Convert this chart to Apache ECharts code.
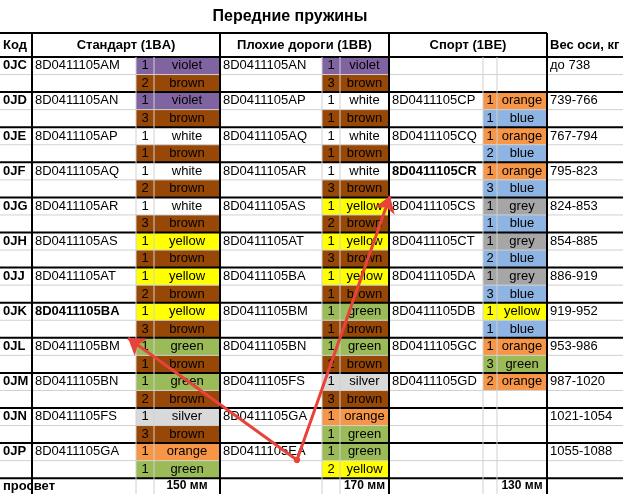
<!DOCTYPE html>
<html><head><meta charset="utf-8">
<script src="https://cdn.jsdelivr.net/npm/echarts@6/dist/echarts.min.js"></script>
<style>html,body{margin:0;padding:0;background:#fff}#c{width:623px;height:494px}</style>
</head><body><div id="c"></div>
<script>
const title = "Передние пружины";
const headers = ["Код","Стандарт (1BA)","Плохие дороги (1BB)","Спорт (1BE)","Вес оси, кг"];
const codes = ["0JC","0JD","0JE","0JF","0JG","0JH","0JJ","0JK","0JL","0JM","0JN","0JP"];
const stdPart = ["8D0411105AM","8D0411105AN","8D0411105AP","8D0411105AQ","8D0411105AR","8D0411105AS","8D0411105AT","8D0411105BA","8D0411105BM","8D0411105BN","8D0411105FS","8D0411105GA"];
const stdSprings = [[["1","violet"],["2","brown"]],[["1","violet"],["3","brown"]],[["1","white"],["1","brown"]],[["1","white"],["2","brown"]],[["1","white"],["3","brown"]],[["1","yellow"],["1","brown"]],[["1","yellow"],["2","brown"]],[["1","yellow"],["3","brown"]],[["1","green"],["1","brown"]],[["1","green"],["2","brown"]],[["1","silver"],["3","brown"]],[["1","orange"],["1","green"]]];
const badPart = ["8D0411105AN","8D0411105AP","8D0411105AQ","8D0411105AR","8D0411105AS","8D0411105AT","8D0411105BA","8D0411105BM","8D0411105BN","8D0411105FS","8D0411105GA","8D0411105EA"];
const badSprings = [[["1","violet"],["3","brown"]],[["1","white"],["1","brown"]],[["1","white"],["1","brown"]],[["1","white"],["3","brown"]],[["1","yellow"],["2","brown"]],[["1","yellow"],["3","brown"]],[["1","yellow"],["1","brown"]],[["1","green"],["1","brown"]],[["1","green"],["2","brown"]],[["1","silver"],["3","brown"]],[["1","orange"],["1","green"]],[["1","green"],["2","yellow"]]];
const sportPart = ["","8D0411105CP","8D0411105CQ","8D0411105CR","8D0411105CS","8D0411105CT","8D0411105DA","8D0411105DB","8D0411105GC","8D0411105GD","",""];
const sportSprings = [[],[["1","orange"],["1","blue"]],[["1","orange"],["2","blue"]],[["1","orange"],["3","blue"]],[["1","grey"],["1","blue"]],[["1","grey"],["2","blue"]],[["1","grey"],["3","blue"]],[["1","yellow"],["1","blue"]],[["1","orange"],["3","green"]],[["2","orange"]],[],[]];
const weights = ["до 738","739-766","767-794","795-823","824-853","854-885","886-919","919-952","953-986","987-1020","1021-1054","1055-1088"];
const boldParts = {"std":[7],"sport":[3]};
const clearance = ["просвет","150 мм","170 мм","130 мм"];

const fills = {violet:"#8064a2",brown:"#974706",white:"#ffffff",yellow:"#ffff00",green:"#9bbb59",silver:"#d9d9d9",orange:"#f79646",grey:"#a6a6a6",blue:"#8db4e2"};
// layout
const X = {code:[0,32], std:[32,136,154,220], bad:[220,322,340,389], sport:[389,483,497,547], w:[547,623]};
const top0 = 57, gH = 35.1, sH = gH/2;
const font = "Liberation Sans, Arial, sans-serif";

const cells = []; // [x0,x1,y0,y1,fill,text,align,bold,size]
function rt(g,s){return top0+g*gH+s*sH;}
cells.push([20,560,2,32,null,title,"center",true,16]);
cells.push([X.code[0],X.code[1],33,57,null,headers[0],"left",true,13]);
cells.push([X.std[0],X.std[3],33,57,null,headers[1],"center",true,13]);
cells.push([X.bad[0],X.bad[3],33,57,null,headers[2],"center",true,13]);
cells.push([X.sport[0],X.sport[3],33,57,null,headers[3],"center",true,13]);
cells.push([X.w[0],X.w[1],33,57,null,headers[4],"left",true,13]);
function addBlock(cols,part,springs,g,bold){
  if(part) cells.push([cols[0],cols[1],rt(g,0),rt(g,1),null,part,"left",bold,13]);
  springs.forEach((sp,s)=>{
    const f = fills[sp[1]];
    cells.push([cols[1],cols[2],rt(g,s),rt(g,s+1),f,sp[0],"center",false,13]);
    cells.push([cols[2],cols[3],rt(g,s),rt(g,s+1),f,sp[1],"center",false,13]);
  });
}
codes.forEach((c,g)=>{
  cells.push([X.code[0],X.code[1],rt(g,0),rt(g,1),null,c,"left",true,13]);
  addBlock(X.std,stdPart[g],stdSprings[g],g,boldParts.std.includes(g));
  addBlock(X.bad,badPart[g],badSprings[g],g,false);
  addBlock(X.sport,sportPart[g],sportSprings[g],g,boldParts.sport.includes(g));
  cells.push([X.w[0],X.w[1],rt(g,0),rt(g,1),null,weights[g],"left",false,13]);
});
const yB = rt(12,0);
cells.push([0,X.std[0]+60,yB,494,null,clearance[0],"left",true,13]);
cells.push([X.std[2],X.std[3],yB,494,null,clearance[1],"center",true,12]);
cells.push([X.bad[2],X.bad[3],yB,494,null,clearance[2],"center",true,12]);
cells.push([X.sport[2],X.sport[3],yB,494,null,clearance[3],"center",true,12]);

// grid lines [x0,y0,x1,y1,color,width]
const lines = [];
for(let g=0;g<12;g++){lines.push([0,rt(g,1),623,rt(g,1),"#d0d0d0",1]);}
lines.push([0,33,547,33,"#000",2]);
for(let g=0;g<=12;g++){lines.push([0,rt(g,0),623,rt(g,0),"#000",2]);}
[X.code[1],X.std[3],X.bad[3],X.sport[3]].forEach(x=>lines.push([x,33,x,494,"#000",2]));
[X.std[1],X.std[2],X.bad[1],X.bad[2],X.sport[1],X.sport[2]].forEach(x=>lines.push([x,57,x,494,"#d0d0d0",1]));

const arrows = [[[297,460],[128,338]],[[297,460],[390,196]]];

const chart = echarts.init(document.getElementById('c'));
chart.setOption({
  animation:false,
  grid:{left:0,right:0,top:0,bottom:0},
  xAxis:{type:'value',min:0,max:623,show:false},
  yAxis:{type:'value',min:0,max:494,inverse:true,show:false},
  series:[
    {type:'custom',data:cells,z:1,renderItem:(p,api)=>{
      const d=cells[p.dataIndex];
      const a=api.coord([d[0],d[2]]),b=api.coord([d[1],d[3]]);
      const ch=[];
      if(d[4]) ch.push({type:'rect',shape:{x:a[0],y:a[1],width:b[0]-a[0],height:b[1]-a[1]},style:{fill:d[4]}});
      const tx = d[6]==='left'?a[0]+3:(a[0]+b[0])/2;
      ch.push({type:'text',style:{x:tx,y:(a[1]+b[1])/2,text:d[5],align:d[6],verticalAlign:'middle',fill:'#000',font:(d[7]?'bold ':'')+d[8]+'px '+font}});
      return {type:'group',children:ch};
    }},
    {type:'custom',data:lines,z:2,renderItem:(p,api)=>{
      const d=lines[p.dataIndex];
      const a=api.coord([d[0],d[1]]),b=api.coord([d[2],d[3]]);
      return {type:'line',shape:{x1:a[0],y1:a[1],x2:b[0],y2:b[1]},style:{stroke:d[4],lineWidth:d[5]}};
    }},
    {type:'lines',coordinateSystem:'cartesian2d',z:5,symbol:['circle','arrow'],symbolSize:[6,16],
     lineStyle:{color:'#e8433a',width:3,opacity:1},
     data:arrows.map(a=>({coords:a}))}
  ]
});
</script></body></html>
